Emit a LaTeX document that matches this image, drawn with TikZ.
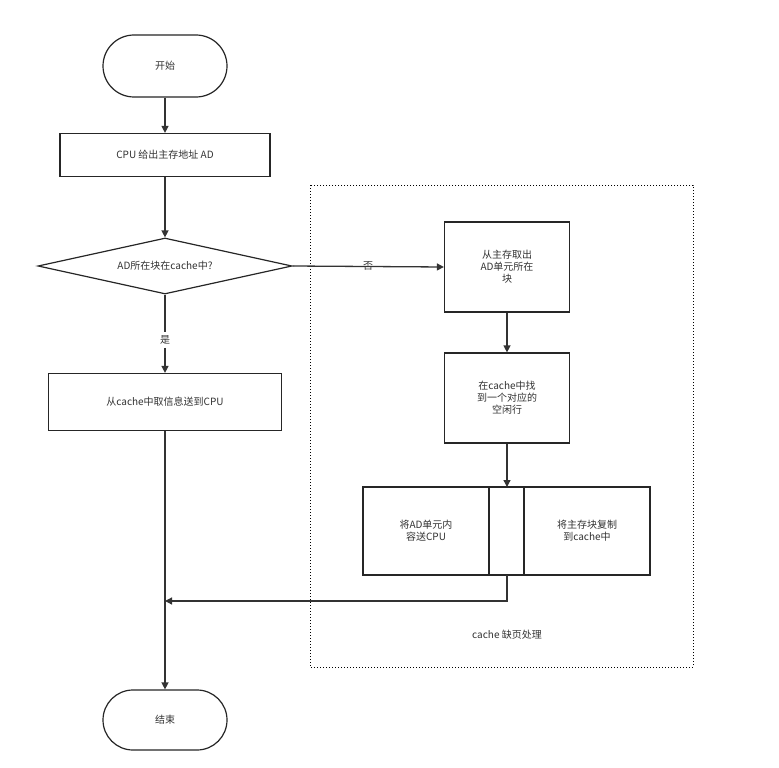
\documentclass[tikz,border=0pt]{standalone}
\usepackage{fontspec}
\setmainfont{Noto Sans CJK SC}
\usetikzlibrary{shapes.geometric,arrows.meta}
\begin{document}
\begin{tikzpicture}[x=1pt,y=-1pt,
  box/.style={draw=black!85,line width=1.2pt,fill=white,font=\fontsize{10}{12}\selectfont,text=black!80,align=center,inner sep=0pt},
  arr/.style={draw=black!80,line width=1.3pt,-{Triangle[length=7pt,width=7pt]}},
  lbl/.style={font=\fontsize{10}{12}\selectfont,text=black!80}]
\useasboundingbox (0,0) rectangle (779,768);
\draw[dotted,line width=1pt] (310,185) rectangle (693,667);
\node[box,rounded corners=31pt,minimum width=124pt,minimum height=62pt] (start) at (165,66) {开始};
\node[box,minimum width=210pt,minimum height=43pt] (cpu) at (165,155) {CPU 给出主存地址 AD};
\node[box,diamond,aspect=4.5,minimum width=254pt,minimum height=56pt,inner sep=0pt] (dec) at (165,266) {};
\node[lbl] at (165,266) {AD所在块在cache中?};
\node[box,minimum width=233pt,minimum height=57pt] (fetch) at (165,402) {从cache中取信息送到CPU};
\node[box,rounded corners=30pt,minimum width=124pt,minimum height=60pt] (end) at (165,720) {结束};
\node[box,minimum width=125pt,minimum height=90pt] (mem) at (507,267) {从主存取出\\AD单元所在\\块};
\node[box,minimum width=125pt,minimum height=90pt] (find) at (507,398) {在cache中找\\到一个对应的\\空闲行};
\node[box,minimum width=287pt,minimum height=88pt] (par) at (506.5,531) {};
\draw[black!85,line width=1.2pt] (489,487) -- (489,575) (524,487) -- (524,575);
\node[lbl,align=center] (p1) at (426,531) {将AD单元内\\容送CPU};
\node[lbl,align=center] (p2) at (587,531) {将主存块复制\\到cache中};
\node[lbl] (no) at (368,266) {否};
\node[lbl,fill=white] (yes) at (165,340) {是};
\node[lbl] (cap) at (507,635) {cache 缺页处理};
\coordinate (j) at (165,601);
\draw[arr] (start) -- (cpu);
\draw[arr] (cpu) -- (dec);
\draw[arr] (dec.east) -- (mem.west);
\draw[black!80,line width=1.3pt] (dec.south) -- (yes.north);
\draw[arr] (yes.south) -- (fetch.north);
\draw[arr] (fetch) -- (end);
\draw[arr] (mem) -- (find);
\draw[arr] (find.south) -- (507,487);
\draw[arr] (507,575) |- (j);
\end{tikzpicture}
\end{document}
